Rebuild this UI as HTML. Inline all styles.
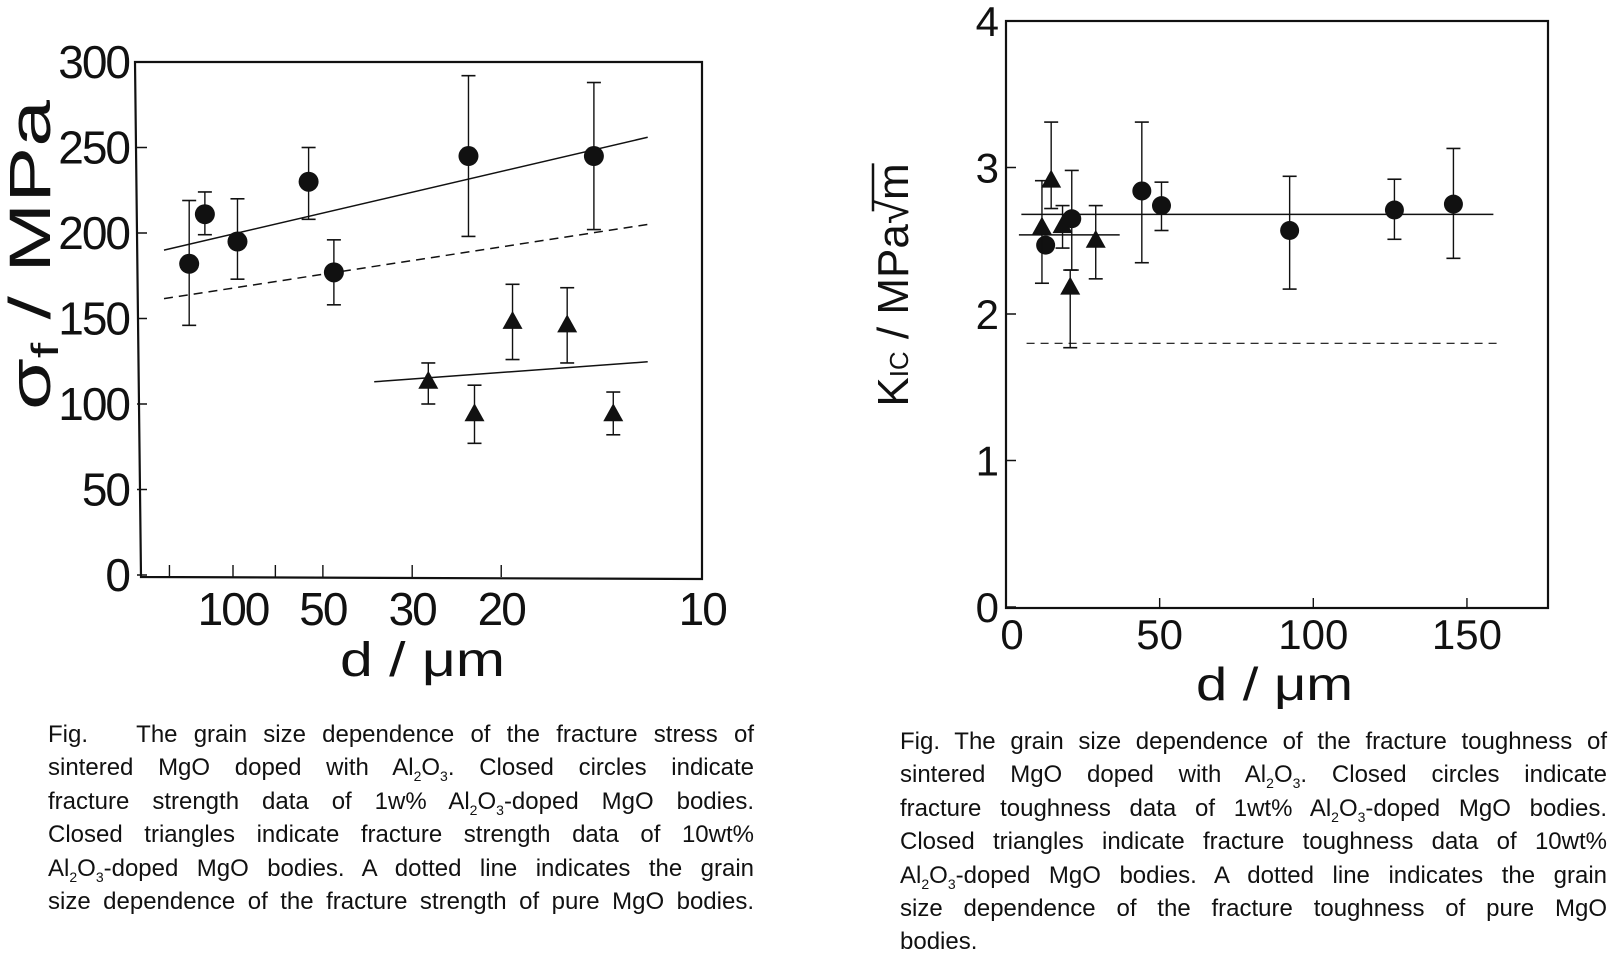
<!DOCTYPE html>
<html><head><meta charset="utf-8"><style>
html,body{margin:0;padding:0;background:#fff;width:1613px;height:960px;overflow:hidden}
svg{position:absolute;left:0;top:0}
.cap{position:absolute;font-family:"Liberation Sans",sans-serif;font-size:24px;line-height:33.4px;color:#111}
.cap div{text-align:justify;text-align-last:justify;white-space:nowrap}
.cap div.last{text-align-last:left}
sub{font-size:14px;line-height:0}
</style></head><body>
<svg id="chart" width="1613" height="960" viewBox="0 0 1613 960"></svg>
<div class="cap" style="left:48px;top:718px;width:706px">
<div>Fig. &nbsp; The grain size dependence of the fracture stress of</div>
<div>sintered MgO doped with Al<sub>2</sub>O<sub>3</sub>. Closed circles indicate</div>
<div>fracture strength data of 1w% Al<sub>2</sub>O<sub>3</sub>-doped MgO bodies.</div>
<div>Closed triangles indicate fracture strength data of 10wt%</div>
<div>Al<sub>2</sub>O<sub>3</sub>-doped MgO bodies. A dotted line indicates the grain</div>
<div>size dependence of the fracture strength of pure MgO bodies.</div>
</div>
<div class="cap" style="left:900px;top:725px;width:707px">
<div>Fig. The grain size dependence of the fracture toughness of</div>
<div>sintered MgO doped with Al<sub>2</sub>O<sub>3</sub>. Closed circles indicate</div>
<div>fracture toughness data of 1wt% Al<sub>2</sub>O<sub>3</sub>-doped MgO bodies.</div>
<div>Closed triangles indicate fracture toughness data of 10wt%</div>
<div>Al<sub>2</sub>O<sub>3</sub>-doped MgO bodies. A dotted line indicates the grain</div>
<div>size dependence of the fracture toughness of pure MgO</div>
<div class="last">bodies.</div>
</div>
<script>
// ---- Left chart data (d in um, stress in MPa) ----
const leftCircleD = [157, 132, 96, 55, 46.6, 23, 14.1];
const leftCircleV = [182, 211, 195, 230, 177, 245, 245];
const leftCircleHi = [219, 224, 220, 250, 196, 292, 288];
const leftCircleLo = [146, 199, 173, 208, 158, 198, 202];
const leftTriD = [27.7, 22.4, 19.1, 15.5, 13.2];
const leftTriV = [113, 94, 148, 146, 94];
const leftTriHi = [124, 111, 170, 168, 107];
const leftTriLo = [100, 77, 126, 124, 82];
const leftFitSolidD = [215, 11.8];
const leftFitSolidV = [190, 256];
const leftFitDashD = [215, 11.6];
const leftFitDashV = [161.6, 205.5];
const leftFitTriD = [36.7, 11.8];
const leftFitTriV = [113, 124.7];
const leftYTicks = [0, 50, 100, 150, 200, 250, 300];
const leftXTicks = [100, 50, 30, 20, 10];
const leftXMinor = [200, 70];
// ---- Right chart data (d in um, K in MPa m^0.5) ----
const rightCircleD = [12.9, 21.4, 44.2, 50.6, 92.3, 126.4, 145.6];
const rightCircleV = [2.47, 2.65, 2.84, 2.74, 2.57, 2.71, 2.75];
const rightCircleHi = [null, 2.98, 3.31, 2.90, 2.94, 2.92, 3.13];
const rightCircleLo = [null, 2.30, 2.35, 2.57, 2.17, 2.51, 2.38];
const rightTriD = [11.7, 14.7, 18.4, 20.9, 29.2];
const rightTriV = [2.59, 2.91, 2.60, 2.18, 2.50];
const rightTriHi = [2.91, 3.31, 2.74, 2.30, 2.74];
const rightTriLo = [2.21, 2.72, 2.45, 1.77, 2.24];
const rightFitSolid = [5, 158.6, 2.68];
const rightFitTri = [4.2, 37, 2.54];
const rightFitDash = [6.7, 161, 1.80];
const rightYTicks = [0, 1, 2, 3, 4];
const rightXTicks = [0, 50, 100, 150];

const NS = 'http://www.w3.org/2000/svg';
const svg = document.getElementById('chart');
function el(tag, attrs, parent) {
  const e = document.createElementNS(NS, tag);
  for (const k in attrs) e.setAttribute(k, attrs[k]);
  (parent || svg).appendChild(e);
  return e;
}
const lx = d => 233 + (Math.pow(d, -0.5) - 0.1) * 2170;
const ly = v => 575 - v * 1.71;
const rx = d => 1006 + d * 3.073;
const ry = v => 607 - v * 146.5;
const ink = '#111';

function errbar(g, x, yh, yl) {
  el('line', {x1: x, y1: yh, x2: x, y2: yl, stroke: ink, 'stroke-width': 1.4}, g);
  el('line', {x1: x - 7, y1: yh, x2: x + 7, y2: yh, stroke: ink, 'stroke-width': 1.6}, g);
  el('line', {x1: x - 7, y1: yl, x2: x + 7, y2: yl, stroke: ink, 'stroke-width': 1.6}, g);
}
function tri(g, x, y) {
  return el('polygon', {points: `${x},${y - 11} ${x - 10},${y + 7} ${x + 10},${y + 7}`, fill: ink}, g);
}

// ===== Left chart =====
const L = el('g', {});


const lframe = el('path', {d: 'M135,62 L702,62 L702,579 L141,577 Z', fill: 'none', stroke: ink, 'stroke-width': 2.2}, L);


leftYTicks.forEach(v => {
  const y = ly(v);
  el('line', {x1: 137, y1: y, x2: 147, y2: y, stroke: ink, 'stroke-width': 1.5}, L);
  const t = el('text', {x: 129, y: y + 16, 'text-anchor': 'end', 'font-size': 46, 'font-family': 'Liberation Sans, sans-serif', fill: ink, 'letter-spacing': -2}, L);
  t.textContent = v;
  
  
});
leftXTicks.concat(leftXMinor).forEach(d => {
  const x = lx(d);
  el('line', {x1: x, y1: 577, x2: x, y2: 565, stroke: ink, 'stroke-width': 1.4}, L);
});
leftXTicks.forEach(d => {
  const t = el('text', {x: lx(d), y: 625, 'text-anchor': 'middle', 'font-size': 46, 'font-family': 'Liberation Sans, sans-serif', fill: ink, 'letter-spacing': -2}, L);
  t.textContent = d;
  
  
});
const lxt = el('text', {x: 340, y: 676, 'font-size': 48, 'font-family': 'Liberation Sans, sans-serif', fill: ink, textLength: 165, lengthAdjust: 'spacingAndGlyphs'}, L);
lxt.textContent = 'd / μm';


const lyt = el('text', {x: 0, y: 0, transform: 'translate(50,410) rotate(-90)', 'font-size': 58, 'font-family': 'Liberation Sans, sans-serif', fill: ink, textLength: 310, lengthAdjust: 'spacingAndGlyphs'}, L);
lyt.innerHTML = 'σ<tspan font-size="38" dy="8">f</tspan><tspan dy="-8"> / MPa</tspan>';


const lf1 = el('line', {x1: lx(leftFitSolidD[0]), y1: ly(leftFitSolidV[0]), x2: lx(leftFitSolidD[1]), y2: ly(leftFitSolidV[1]), stroke: ink, 'stroke-width': 1.5}, L);


const lf2 = el('line', {x1: lx(leftFitDashD[0]), y1: ly(leftFitDashV[0]), x2: lx(leftFitDashD[1]), y2: ly(leftFitDashV[1]), stroke: ink, 'stroke-width': 1.5, 'stroke-dasharray': '9 6'}, L);


const lf3 = el('line', {x1: lx(leftFitTriD[0]), y1: ly(leftFitTriV[0]), x2: lx(leftFitTriD[1]), y2: ly(leftFitTriV[1]), stroke: ink, 'stroke-width': 1.5}, L);


leftCircleD.forEach((d, i) => {
  const x = lx(d);
  errbar(L, x, ly(leftCircleHi[i]), ly(leftCircleLo[i]));
  const c = el('circle', {cx: x, cy: ly(leftCircleV[i]), r: 10, fill: ink}, L);
  
  
});
leftTriD.forEach((d, i) => {
  const x = lx(d);
  errbar(L, x, ly(leftTriHi[i]), ly(leftTriLo[i]));
  const p = tri(L, x, ly(leftTriV[i]));
  
  
});

// ===== Right chart =====
const R = el('g', {});


const rframe = el('rect', {x: 1006, y: 21, width: 542, height: 587, fill: 'none', stroke: ink, 'stroke-width': 2.2}, R);


rightYTicks.forEach(v => {
  const y = ry(v);
  el('line', {x1: 1006, y1: y, x2: 1016, y2: y, stroke: ink, 'stroke-width': 1.5}, R);
  const t = el('text', {x: 999, y: y + 15, 'text-anchor': 'end', 'font-size': 42, 'font-family': 'Liberation Sans, sans-serif', fill: ink}, R);
  t.textContent = v;
  
  
});
rightXTicks.forEach(d => {
  const x = rx(d);
  el('line', {x1: x, y1: 608, x2: x, y2: 598, stroke: ink, 'stroke-width': 1.4}, R);
  const t = el('text', {x: d === 0 ? x + 6 : x, y: 649, 'text-anchor': 'middle', 'font-size': 42, 'font-family': 'Liberation Sans, sans-serif', fill: ink}, R);
  t.textContent = d;
  
  
});
const rxt = el('text', {x: 1196, y: 700, 'font-size': 46, 'font-family': 'Liberation Sans, sans-serif', fill: ink, textLength: 157, lengthAdjust: 'spacingAndGlyphs'}, R);
rxt.textContent = 'd / μm';


const rytG = el('g', {transform: 'translate(908,285) rotate(-90)'}, R);
const ryt = el('text', {x: 0, y: 0, 'text-anchor': 'middle', 'font-size': 44, 'font-family': 'Liberation Sans, sans-serif', fill: ink}, rytG);
ryt.innerHTML = 'K<tspan font-size="26">IC</tspan> / MPa√m';


try {
  const bb = ryt.getBBox();
  el('line', {x1: bb.x + bb.width - 48, y1: bb.y + 4, x2: bb.x + bb.width, y2: bb.y + 4, stroke: ink, 'stroke-width': 2.5}, rytG);
} catch (e) {}
[[rightFitSolid, 'fit-line-1wt-k', null], [rightFitTri, 'fit-line-10wt-k', null], [rightFitDash, 'fit-line-pure-mgo-k', '8 6']].forEach(([f, n, dash]) => {
  const a = {x1: rx(f[0]), y1: ry(f[2]), x2: rx(f[1]), y2: ry(f[2]), stroke: ink, 'stroke-width': dash ? 1.2 : 1.5};
  if (dash) a['stroke-dasharray'] = dash;
  const ln = el('line', a, R);
  
  
});
rightCircleD.forEach((d, i) => {
  const x = rx(d);
  if (rightCircleHi[i] !== null) errbar(R, x, ry(rightCircleHi[i]), ry(rightCircleLo[i]));
  const c = el('circle', {cx: x, cy: ry(rightCircleV[i]), r: 9.5, fill: ink}, R);
  
  
});
rightTriD.forEach((d, i) => {
  const x = rx(d);
  errbar(R, x, ry(rightTriHi[i]), ry(rightTriLo[i]));
  const p = tri(R, x, ry(rightTriV[i]));
  
  
});
</script>
</body></html>
